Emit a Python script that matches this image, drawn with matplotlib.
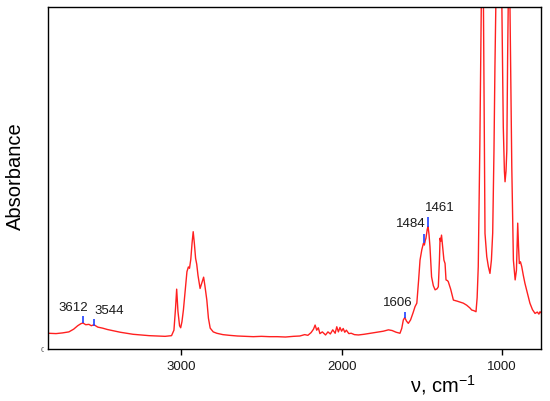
import numpy as np
import matplotlib
matplotlib.use('Agg')
import matplotlib.pyplot as plt
from matplotlib.patches import Rectangle

plt.rcParams['font.family'] = ['Liberation Sans', 'DejaVu Sans']

# IR spectrum (wavenumber, absorbance in axis units)
wn = [3830, 3780, 3740, 3700, 3670, 3645, 3625, 3612, 3595, 3575, 3560, 3544,
      3520, 3490, 3460, 3420, 3380, 3340, 3300, 3250, 3200, 3150, 3100, 3060,
      3045, 3035, 3028, 3020, 3010, 3003, 2995, 2986, 2975, 2964, 2955, 2948,
      2940, 2932, 2925, 2918, 2910, 2903, 2895, 2882, 2870, 2860, 2852, 2840,
      2830, 2819, 2800, 2778, 2740, 2700, 2650, 2600, 2550, 2500, 2450, 2400,
      2350, 2300, 2260, 2230, 2210, 2190, 2175, 2165, 2155, 2145, 2135, 2120,
      2100, 2085, 2070, 2055, 2040, 2030, 2020, 2010, 2000, 1990, 1980, 1970,
      1955, 1940, 1920, 1895, 1860, 1820, 1780, 1740, 1708, 1685, 1660, 1636,
      1625, 1615, 1606, 1596, 1584, 1570, 1555, 1542, 1531, 1520, 1511, 1500,
      1490, 1484, 1478, 1474, 1466, 1461, 1455, 1449, 1439, 1428, 1417, 1405,
      1397, 1390, 1386, 1382, 1377, 1370, 1362, 1355, 1349, 1340, 1335, 1320,
      1303, 1280, 1260, 1241, 1220, 1200, 1189, 1175, 1162, 1155, 1148, 1138,
      1127, 1122, 1117, 1110, 1106, 1095, 1085, 1075, 1066, 1058, 1050, 1044,
      1037, 1030, 1015, 1002, 992, 985, 981, 975, 970, 965, 960, 955, 948, 939,
      929, 918, 910, 902, 897, 892, 885, 877, 867, 857, 840, 826, 810, 794,
      780, 770, 763, 755]
absorb = [0.046, 0.045, 0.047, 0.050, 0.058, 0.068, 0.074, 0.076, 0.071, 0.072,
          0.068, 0.071, 0.064, 0.061, 0.057, 0.053, 0.049, 0.046, 0.043, 0.041,
          0.039, 0.038, 0.037, 0.039, 0.055, 0.120, 0.175, 0.110, 0.068, 0.062,
          0.080, 0.114, 0.170, 0.226, 0.240, 0.236, 0.262, 0.310, 0.343, 0.310,
          0.265, 0.248, 0.215, 0.177, 0.195, 0.210, 0.185, 0.143, 0.090, 0.061,
          0.050, 0.046, 0.042, 0.040, 0.038, 0.037, 0.036, 0.037, 0.036, 0.036,
          0.035, 0.037, 0.038, 0.042, 0.040, 0.048, 0.058, 0.070, 0.055, 0.062,
          0.045, 0.050, 0.041, 0.050, 0.044, 0.056, 0.046, 0.065, 0.050, 0.063,
          0.052, 0.060, 0.049, 0.055, 0.045, 0.046, 0.042, 0.041, 0.043, 0.046,
          0.049, 0.052, 0.056, 0.054, 0.049, 0.046, 0.060, 0.085, 0.092, 0.082,
          0.075, 0.085, 0.105, 0.124, 0.134, 0.200, 0.260, 0.290, 0.309, 0.304,
          0.318, 0.324, 0.350, 0.358, 0.335, 0.299, 0.211, 0.185, 0.173, 0.176,
          0.182, 0.260, 0.324, 0.315, 0.333, 0.300, 0.260, 0.250, 0.202, 0.200,
          0.197, 0.175, 0.143, 0.140, 0.137, 0.134, 0.128, 0.120, 0.114, 0.112,
          0.109, 0.150, 0.241, 0.600, 1.10, 1.30, 1.10, 0.600, 0.338, 0.270,
          0.241, 0.221, 0.260, 0.339, 0.580, 0.826, 1.05, 1.30, 1.40, 1.05,
          0.650, 0.520, 0.489, 0.520, 0.580, 0.850, 1.05, 1.20, 0.900, 0.533,
          0.260, 0.202, 0.230, 0.368, 0.300, 0.250, 0.255, 0.241, 0.215, 0.192,
          0.160, 0.134, 0.115, 0.104, 0.108, 0.102, 0.109, 0.105]

# labelled bands: position, marker bottom/top, label position
peak_wn = [3612, 3544, 1606, 1484, 1461]
mark_lo = [0.075, 0.068, 0.092, 0.309, 0.358]
mark_hi = [0.097, 0.087, 0.109, 0.335, 0.387]
label_x = [3673, 3450, 1648, 1570, 1389]
label_y = [0.121, 0.111, 0.134, 0.365, 0.411]

fig = plt.figure(figsize=(5.5, 4.01), dpi=100)
ax = fig.add_axes([0.0873, 0.1297, 0.8963, 0.8528])

ax.plot(wn, absorb, color='#ff2020', lw=1.0)
ax.vlines(peak_wn, mark_lo, mark_hi, color='#1f3fff', lw=1.2)
for p, x, y in zip(peak_wn, label_x, label_y):
    ax.text(x, y, str(p), ha='center', va='center', fontsize=9.5, color='#1a1a1a')

ax.set_xlim(3830, 757)
ax.set_ylim(0, 1)
ax.set_xticks([3000, 2000, 1000])
ax.set_xticklabels(['3000', '2000', '1000'], fontsize=9.5, color='#1a1a1a')
ax.tick_params(axis='x', direction='out', length=4, width=1, pad=5)
ax.set_yticks([])
for s in ax.spines.values():
    s.set_linewidth(1.0)

# cut-off zero label at the lower left corner
zero = fig.text(0.0745, 0.127, '0', ha='left', va='center', fontsize=6, color='#555555')
zero.set_clip_path(Rectangle((0, 0), 0.0795, 1, transform=fig.transFigure))

fig.text(0.029, 0.56, 'Absorbance', rotation=90, ha='center', va='center', fontsize=14.5)
fig.text(0.806, 0.04, r'$\mathregular{\nu}$, cm$^{\mathregular{-1}}$', ha='center', va='center', fontsize=14.5)

fig.savefig('out.png', dpi=100)
